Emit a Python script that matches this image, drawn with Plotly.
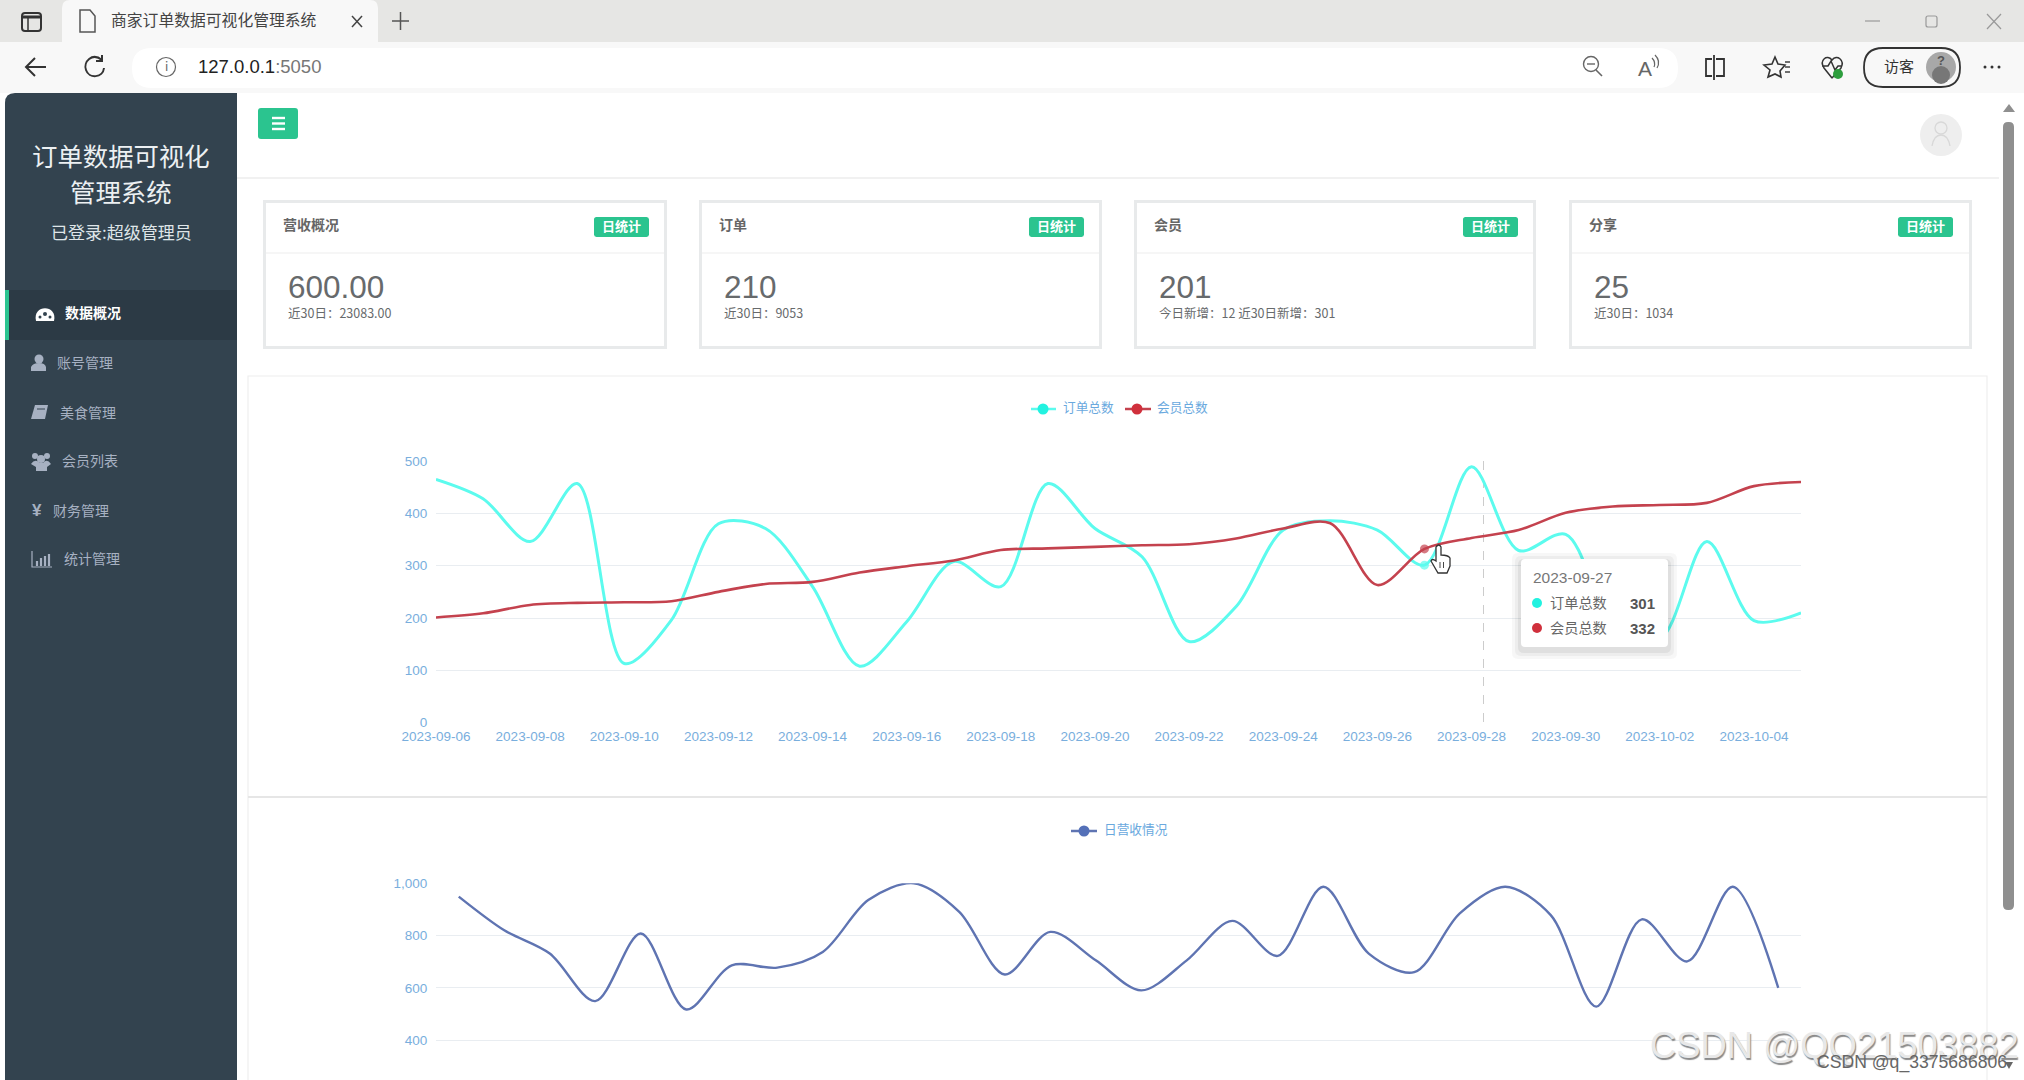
import plotly.graph_objects as go

W = 2024
H = 1080

dates = ["2023-09-%02d" % d for d in range(6, 31)] + ["2023-10-%02d" % d for d in range(1, 6)]
orders = [465, 428, 346, 457, 113, 196, 380, 371, 260, 108, 193, 308, 260, 457, 371,
          317, 155, 222, 368, 386, 368, 301, 489, 329, 360, 190, 160, 346, 195, 210]
members = [201, 209, 225, 229, 230, 232, 250, 265, 269, 287, 299, 310, 330, 333, 336,
           339, 341, 352, 371, 381, 263, 332, 353, 368, 401, 413, 416, 420, 452, 460]
revenue = [949, 820, 731, 549, 808, 517, 686, 677, 737, 936, 1000, 891, 651, 814, 705,
           590, 705, 856, 722, 987, 731, 660, 885, 987, 878, 528, 862, 701, 987, 600]
hover_index = 21
order_ticks = [0, 100, 200, 300, 400, 500]
revenue_ticks = [400, 600, 800, 1000]
nav_items = ["数据概况", "账号管理", "美食管理", "会员列表", "财务管理", "统计管理"]
card_titles = ["营收概况", "订单", "会员", "分享"]
card_values = ["600.00", "210", "201", "25"]
card_notes = ["近30日：23083.00", "近30日：9053", "今日新增：12 近30日新增：301", "近30日：1034"]

CJK = "Noto Sans CJK SC"
LATIN = "Liberation Sans"
CYAN = "#5cfbee"
RED = "#c4424e"
BLUE = "#5f74b2"
AXIS_TEXT = "#79aedd"
GRID = "#e9edf1"
GREEN = "#2bc48f"
SIDE = "#33434f"

shapes = []
notes = []


def fx(x):
    return x / W


def fy(y):
    return 1 - y / H


def rect(x0, y0, x1, y1, fill, line=None, width=0, layer="below"):
    shapes.append(dict(type="rect", xref="paper", yref="paper", x0=fx(x0), x1=fx(x1), y0=fy(y0), y1=fy(y1),
                       fillcolor=fill, line=dict(color=line or fill, width=width), layer=layer))


def circle(cx, cy, r, fill, line=None, width=0, layer="below"):
    shapes.append(dict(type="circle", xref="paper", yref="paper", x0=fx(cx - r), x1=fx(cx + r),
                       y0=fy(cy - r), y1=fy(cy + r), fillcolor=fill,
                       line=dict(color=line or fill, width=width), layer=layer))


def seg(x0, y0, x1, y1, color, width=1, dash="solid", layer="below"):
    shapes.append(dict(type="line", xref="paper", yref="paper", x0=fx(x0), x1=fx(x1), y0=fy(y0), y1=fy(y1),
                       line=dict(color=color, width=width, dash=dash), layer=layer))


def path(d, fill="rgba(0,0,0,0)", line="rgba(0,0,0,0)", width=1, layer="below"):
    out = []
    is_x = True
    for tok in d.split():
        if tok.isalpha():
            out.append(tok)
        else:
            v = float(tok)
            out.append("%.6f" % (fx(v) if is_x else fy(v)))
            is_x = not is_x
    shapes.append(dict(type="path", xref="paper", yref="paper", path=" ".join(out), fillcolor=fill,
                       line=dict(color=line, width=width), layer=layer))


def round_rect(x0, y0, x1, y1, r, fill, line="rgba(0,0,0,0)", width=1, layer="below"):
    path(f"M {x0+r} {y0} L {x1-r} {y0} Q {x1} {y0} {x1} {y0+r} L {x1} {y1-r} Q {x1} {y1} {x1-r} {y1} "
         f"L {x0+r} {y1} Q {x0} {y1} {x0} {y1-r} L {x0} {y0+r} Q {x0} {y0} {x0+r} {y0} Z",
         fill, line, width, layer)


def label(x, y, text, size, color, anchor="left", bold=False, font=CJK, shadow=None):
    f = dict(size=size, color=color, family=font)
    if shadow:
        f["shadow"] = shadow
    # the CJK face sits a little low in its line box
    nudge = 1.2 if font == CJK else 0
    notes.append(dict(xref="paper", yref="paper", x=fx(x), y=fy(y - nudge), text=f"<b>{text}</b>" if bold else text,
                      showarrow=False, xanchor=anchor, yanchor="middle", font=f, borderpad=0))


# browser chrome
rect(0, 0, W, 42, "#e6e6e4")
rect(0, 42, W, 93, "#f8f8f8")
round_rect(62, 0, 378, 50, 8, "#f8f8f8")
round_rect(22, 13, 41, 31, 3, "rgba(0,0,0,0)", "#333333", 2)
seg(23, 17, 40, 17, "#333333", 3)
seg(28, 17, 28, 30, "#333333", 1.5)
path("M 80 10 L 90 10 L 95 16 L 95 32 L 80 32 Z", line="#555555", width=1.5)
label(110, 21, "商家订单数据可视化管理系统", 15.8, "#444444")
seg(352, 16, 362, 27, "#444444", 1.5)
seg(362, 16, 352, 27, "#444444", 1.5)
seg(392, 21, 409, 21, "#555555", 1.5)
seg(400.5, 12, 400.5, 30, "#555555", 1.5)
round_rect(132, 48, 1678, 88, 20, "#ffffff")
path("M 46 67 L 27 67 M 35 58 L 26 67 L 35 76", line="#333333", width=2)
path("M 102 60 C 92 52 83 62 86 70 C 89 79 103 78 104 68 M 102 55 L 102 61 L 96 61", line="#333333", width=2)
circle(166, 67, 9.5, "#ffffff", "#666666", 1.2)
label(166, 67, "i", 12, "#666666", "center")
notes.append(dict(xref="paper", yref="paper", x=fx(196), y=fy(67), showarrow=False, xanchor="left", yanchor="middle",
                  text='127.0.0.1<span style="color:#777777">:5050</span>',
                  font=dict(size=18.5, color="#222222", family=LATIN)))
circle(1591, 64, 7.5, "#ffffff", "#666666", 1.4)
seg(1587, 64, 1595, 64, "#666666", 1.4)
seg(1596, 70, 1602, 76, "#666666", 1.6)
label(1645, 68, "A", 21, "#666666", "center", font=LATIN)
path("M 1652 58 Q 1656 62 1654 67 M 1655 55 Q 1661 61 1657 68", line="#666666", width=1.2)
path("M 1712 59 L 1706 59 L 1706 76 L 1712 76 M 1716 59 L 1724 59 L 1724 76 L 1716 76 M 1714 55 L 1714 80",
     line="#333333", width=1.8)
path("M 1775 57 L 1778 64 L 1785 65 L 1780 71 L 1781 77 L 1775 74 L 1768 77 L 1770 70 L 1764 65 L 1772 64 Z",
     line="#333333", width=1.6)
seg(1785, 62, 1790, 62, "#333333", 1.4)
seg(1785, 67, 1790, 67, "#333333", 1.4)
seg(1785, 72, 1790, 72, "#333333", 1.4)
path("M 1832 78 L 1824 68 C 1819 60 1827 54 1832 60 C 1837 54 1845 60 1841 68 L 1832 78 M 1822 66 L 1828 66 L 1831 61 L 1835 70 L 1838 66 L 1842 66",
     line="#333333", width=1.5)
circle(1838, 74, 5, "#2e9e3e")
round_rect(1864, 48, 1960, 87, 19, "#f8f8f8", "#333333", 1.8)
label(1899, 67, "访客", 15, "#333333", "center")
circle(1941, 67, 15, "#a8a8a8")
circle(1941, 75, 9, "#777777")
label(1941, 60, "?", 13, "#555555", "center", True, LATIN)
for cx in [1985, 1992, 1999]:
    circle(cx, 67, 1.5, "#333333")
seg(1865, 21, 1880, 21, "#999999", 1.2)
round_rect(1926, 16, 1937, 27, 2, "rgba(0,0,0,0)", "#999999", 1.2)
seg(1987, 14, 2001, 29, "#999999", 1.2)
seg(2001, 14, 1987, 29, "#999999", 1.2)

# page body
round_rect(5, 93, W - 6, H + 20, 8, "#ffffff")
round_rect(5, 93, 237, H + 20, 10, SIDE)
rect(225, 93, 237, H, SIDE)
seg(237, 178, 1999, 178, "#ececec", 1.5)
round_rect(258, 108, 298, 139, 3, GREEN)
for yy in [118, 123.5, 129]:
    seg(272, yy, 285, yy, "#ffffff", 2.4)
circle(1941, 135, 21, "#eeeeee")
circle(1941, 128, 6, "#eeeeee", "#d8d8d8", 1.3)
path("M 1932 146 Q 1934 135 1941 135 Q 1948 135 1950 146", line="#d8d8d8", width=1.3)
round_rect(2003, 122, 2014, 910, 5, "#8f8f8f")
path("M 2003 112 L 2009 104 L 2015 112 Z", "#8f8f8f")
path("M 2005 1062 L 2013 1062 L 2009 1069 Z", "#666666", layer="above")

# sidebar
label(121, 156, "订单数据可视化", 25.4, "#ecf0f2", "center")
label(121, 192, "管理系统", 25.4, "#ecf0f2", "center")
label(121, 233, "已登录:超级管理员", 17, "#dfe5e8", "center")
rect(5, 290, 237, 340, "#2c3a45")
rect(5, 290, 9, 340, GREEN)
nav_left = [64, 56, 59, 61, 52, 63]
nav_mid = [313, 363, 413, 461, 511, 559]
for i, name in enumerate(nav_items):
    if i == 0:
        label(nav_left[i], nav_mid[i], name, 14, "#ffffff", bold=True)
    else:
        label(nav_left[i], nav_mid[i], name, 14, "#a7b1c2")
path("M 36 321 C 32 304 58 304 54 321 Z", "#ffffff")
circle(45, 314, 2, SIDE)
circle(40, 317, 1.5, SIDE)
circle(50, 317, 1.5, SIDE)
ICON = "#a7b1c2"
circle(39, 359, 4.5, ICON)
path("M 31 371 L 31 367 Q 33 363 39 363 Q 45 363 46 367 L 46 371 Z", ICON)
path("M 35 405 L 48 405 L 45 419 L 31 419 Z", ICON)
seg(37, 409, 45, 409, SIDE, 1)
for cx, cy, r in [(35, 456, 3), (47, 456, 3), (41, 459, 4)]:
    circle(cx, cy, r, ICON)
path("M 31 464 Q 35 458 40 463 L 43 463 Q 47 458 51 464 L 47 467 L 47 471 L 36 471 L 36 467 Z", ICON)
label(37, 511, "¥", 17, ICON, "center", True, LATIN)
path("M 32 551 L 32 567 L 52 567", line=ICON, width=1.2)
for bx, by in [(37, 561), (41, 558), (45, 556), (49, 554)]:
    seg(bx, by, bx, 566, ICON, 2.2)

# stat cards
card_left = [263, 699, 1134, 1569]
card_right = [667, 1102, 1536, 1972]
badge_left = [594, 1029, 1463, 1898]
for i in range(4):
    x0, x1 = card_left[i], card_right[i]
    rect(x0 + 1.5, 201.5, x1 - 1.5, 347.5, "#ffffff", "#e8eaeb", 3)
    seg(x0 + 3, 253, x1 - 3, 253, "#eeeeee", 1.2)
    label(x0 + 19, 225, card_titles[i], 14, "#666666", bold=True)
    round_rect(badge_left[i], 217, badge_left[i] + 55, 237, 2.5, GREEN)
    label(badge_left[i] + 27.5, 227, "日统计", 13, "#ffffff", "center", True)
    label(x0 + 24, 287, card_values[i], 31.5, "#676a6c", font=LATIN)
    label(x0 + 24, 314, card_notes[i], 12.5, "#676a6c")

# chart panels
rect(248, 376, 1987, 1090, "#ffffff", "#eeeeee", 1.2)
seg(248, 797, 1987, 797, "#e6e6e6", 2)

# legends
LEG = "#6aa9de"
seg(1031, 409, 1056, 409, CYAN, 2.5)
circle(1043, 409, 5.5, "#22f2e0")
label(1062, 408, "订单总数", 12.7, LEG)
seg(1125, 409, 1151, 409, RED, 2.5)
circle(1137, 409, 5.5, "#d0303c")
label(1156, 408, "会员总数", 12.7, LEG)
seg(1071, 831, 1097, 831, BLUE, 2.5)
circle(1084, 831, 5.5, "#5470b8")
label(1103, 830, "日营收情况", 12.7, LEG)

# axis pointer and tooltip
seg(1483.5, 461, 1483.5, 722.7, "#cccccc", 1, "dash")
for grow, alpha in [(9, 0.03), (6, 0.04), (3, 0.06)]:
    round_rect(1521 - grow, 559 - grow + 3, 1668 + grow, 647 + grow + 3, 6, f"rgba(0,0,0,{alpha})", layer="above")
round_rect(1521, 559, 1668, 647, 4, "#ffffff", layer="above")
circle(1537, 603, 5, "#22f2e0", layer="above")
circle(1537, 628, 5, "#d0303c", layer="above")
label(1532, 577, dates[hover_index], 15.5, "#777777", font=LATIN)
label(1549, 603, "订单总数", 14.2, "#666666")
label(1549, 628, "会员总数", 14.2, "#666666")
label(1656, 603, str(orders[hover_index]), 15, "#555555", "right", True, LATIN)
label(1656, 628, str(members[hover_index]), 15, "#555555", "right", True, LATIN)

# mouse cursor
path("M 1436 547 Q 1439 543 1441 547 L 1441 555 Q 1448 555 1450 558 L 1450 566 L 1447 573 L 1438 573 L 1431 561 "
     "Q 1432 558 1436 561 Z", "#ffffff", "#333333", 1.3, "above")
seg(1440, 562, 1440, 568, "#333333", 0.9, layer="above")
seg(1443.5, 562, 1443.5, 568, "#333333", 0.9, layer="above")

# watermarks
label(2020, 1045, "CSDN @QQ21503882", 36.4, "#e8e8e8", "right", font=LATIN, shadow="1px 2px 1px #8a8a8a")
label(2008, 1062, "CSDN @q_3375686806", 17.6, "#666666", "right", font=LATIN)

marker_sizes = [9 if i == hover_index else 0 for i in range(len(dates))]

fig = go.Figure()
fig.add_trace(go.Scatter(x=dates, y=orders, name="订单总数", mode="lines+markers", cliponaxis=False,
                         line=dict(color=CYAN, width=3, shape="spline", smoothing=0.9),
                         marker=dict(size=marker_sizes, color=CYAN, line=dict(width=0))))
fig.add_trace(go.Scatter(x=dates, y=members, name="会员总数", mode="lines+markers", cliponaxis=False,
                         line=dict(color=RED, width=2.6, shape="spline", smoothing=0.9),
                         marker=dict(size=marker_sizes, color=RED, line=dict(width=0))))
fig.add_trace(go.Scatter(x=dates, y=revenue, name="日营收情况", mode="lines", cliponaxis=False, xaxis="x2", yaxis="y2",
                         line=dict(color=BLUE, width=2.4, shape="spline", smoothing=0.9)))

tick_font = dict(size=13.5, color=AXIS_TEXT, family=LATIN)
fig.update_layout(
    width=W, height=H, margin=dict(l=0, r=0, t=0, b=0, pad=0), autosize=False,
    paper_bgcolor="#ffffff", plot_bgcolor="rgba(0,0,0,0)", showlegend=False, hovermode=False,
    font=dict(family=CJK),
    xaxis=dict(domain=[fx(436), fx(1801)], type="category", range=[0, 29], tickvals=dates[::2], ticktext=dates[::2],
               showgrid=False, zeroline=False, showline=False, ticks="outside", ticklen=1, tickcolor="rgba(0,0,0,0)",
               tickfont=tick_font, tickangle=0, anchor="y", automargin=False),
    yaxis=dict(domain=[fy(722.7), fy(461)], range=[0, 500], tickvals=order_ticks, gridcolor=GRID, gridwidth=1.4,
               zeroline=False, showline=False, ticks="outside", ticklen=5, tickcolor="rgba(0,0,0,0)",
               tickfont=tick_font, anchor="x", automargin=False),
    xaxis2=dict(domain=[fx(436), fx(1801)], type="category", range=[-0.5, 29.5], visible=False, anchor="y2",
                automargin=False),
    yaxis2=dict(domain=[0, fy(883.3)], range=[247, 1000], tickvals=revenue_ticks, tickformat=",d", gridcolor=GRID,
                gridwidth=1.4, zeroline=False, showline=False, ticks="outside", ticklen=5,
                tickcolor="rgba(0,0,0,0)", tickfont=tick_font, anchor="x2", automargin=False),
    shapes=shapes, annotations=notes,
)

fig.write_html("out.html", config=dict(displayModeBar=False),
               post_script="document.body.style.margin='0';document.body.style.overflow='hidden';")
